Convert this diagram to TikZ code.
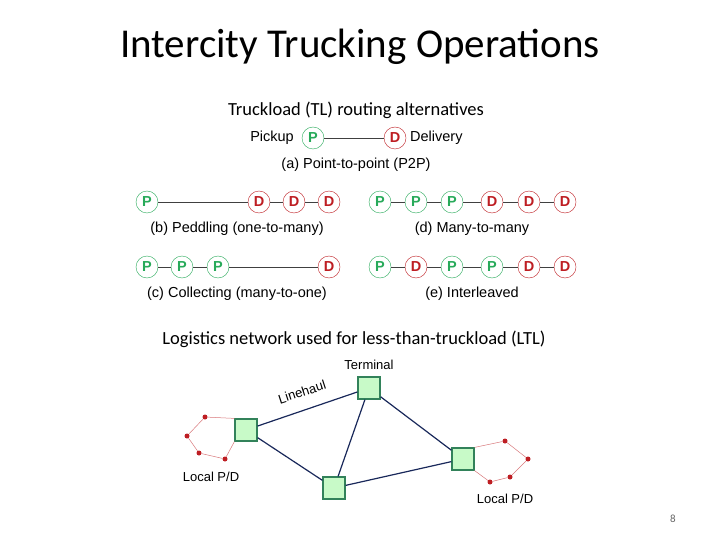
\documentclass[tikz,border=0pt]{standalone}
\usepackage{fontspec}
\setmainfont{Carlito}
\newfontfamily\arialfont{Liberation Sans}
\definecolor{pgreen}{RGB}{40,170,90}
\definecolor{dred}{RGB}{190,30,35}
\definecolor{navy}{RGB}{25,40,90}
\definecolor{tgreen}{RGB}{200,250,200}
\definecolor{tedge}{RGB}{50,130,90}
\begin{document}
\begin{tikzpicture}[x=1pt, y=-1pt]
	\tikzset{
		every node/.style={
			font=\arialfont\fontsize{14.5}{17}\selectfont,
			inner sep=0pt
		},
		pick/.style={
			circle,
			draw=pgreen,
			fill=white,
			text=pgreen,
			minimum size=22pt,
			font=\arialfont\bfseries\fontsize{14.5}{17}\selectfont
		},
		deliv/.style={
			circle,
			draw=dred,
			fill=white,
			text=dred,
			minimum size=22pt,
			font=\arialfont\bfseries\fontsize{14.5}{17}\selectfont
		},
		term/.style={
			rectangle,
			draw=tedge,
			line width=1.2pt,
			fill=tgreen,
			minimum size=22pt
		},
		stop/.style={
			circle,
			fill=dred,
			minimum size=5pt
		},
		route/.style={
			black!75,
			line width=0.7pt
		},
		haul/.style={
			navy,
			line width=1.2pt
		},
		local/.style={
			dred!60,
			line width=0.5pt
		},
		head/.style={
			font=\fontsize{18.5}{22}\selectfont
		}
	}
	\useasboundingbox (0,0) rectangle (720,540);

	\node[font=\fontsize{41}{46}\selectfont] (title) at (360,47) {Intercity Trucking Operations};
	\node[head] (tl) at (356,110) {Truckload (TL) routing alternatives};
	\node[head] (ltl) at (354,339) {Logistics network used for less-than-truckload (LTL)};
	\node[font=\fontsize{11}{13}\selectfont, text=black!60] (page) at (673,519) {8};

	% (a)
	\node[pick] (a1) at (313,138) {P};
	\node[deliv] (a2) at (395,138) {D};
	\node[anchor=east] (pk) at (294,138) {Pickup};
	\node[anchor=west] (dl) at (410,138) {Delivery};
	\node (la) at (356,165) {(a) Point-to-point (P2P)};
	\draw[route] (a1) -- (a2);

	% (b)
	\node[pick] (b1) at (147,202) {P};
	\node[deliv] (b2) at (259,202) {D};
	\node[deliv] (b3) at (294,202) {D};
	\node[deliv] (b4) at (329,202) {D};
	\node (lb) at (237,229) {(b) Peddling (one-to-many)};
	\draw[route] (b1) -- (b2) -- (b3) -- (b4);

	% (c)
	\node[pick] (c1) at (147,267) {P};
	\node[pick] (c2) at (182,267) {P};
	\node[pick] (c3) at (218,267) {P};
	\node[deliv] (c4) at (329,267) {D};
	\node (lc) at (237,294) {(c) Collecting (many-to-one)};
	\draw[route] (c1) -- (c2) -- (c3) -- (c4);

	% (d)
	\node[pick] (d1) at (380,202) {P};
	\node[pick] (d2) at (416,202) {P};
	\node[pick] (d3) at (452,202) {P};
	\node[deliv] (d4) at (492,202) {D};
	\node[deliv] (d5) at (529,202) {D};
	\node[deliv] (d6) at (565,202) {D};
	\node (ld) at (472,229) {(d) Many-to-many};
	\draw[route] (d1) -- (d2) -- (d3) -- (d4) -- (d5) -- (d6);

	% (e)
	\node[pick] (e1) at (380,267) {P};
	\node[deliv] (e2) at (416,267) {D};
	\node[pick] (e3) at (452,267) {P};
	\node[pick] (e4) at (492,267) {P};
	\node[deliv] (e5) at (529,267) {D};
	\node[deliv] (e6) at (565,267) {D};
	\node (le) at (472,294) {(e) Interleaved};
	\draw[route] (e1) -- (e2) -- (e3) -- (e4) -- (e5) -- (e6);

	% LTL network
	\node[term] (tn) at (369,388) {};
	\node[term] (tw) at (246,430) {};
	\node[term] (ts) at (334,488) {};
	\node[term] (te) at (463,459) {};
	\node[font=\arialfont\fontsize{13}{15}\selectfont] (lterm) at (369,365) {Terminal};
	\node[rotate=18, font=\arialfont\fontsize{13}{15}\selectfont] (lhaul) at (302,392) {Linehaul};
	\node[font=\arialfont\fontsize{13}{15}\selectfont] (lpd1) at (211,477) {Local P/D};
	\node[font=\arialfont\fontsize{13}{15}\selectfont] (lpd2) at (505,499) {Local P/D};

	\node[stop] (w1) at (205,417) {};
	\node[stop] (w2) at (187,436) {};
	\node[stop] (w3) at (199,453) {};
	\node[stop] (w4) at (225,459) {};
	\node[stop] (r1) at (505,441) {};
	\node[stop] (r2) at (528,459) {};
	\node[stop] (r3) at (510,477) {};
	\node[stop] (r4) at (490,482) {};

	\draw[local] (tw.north west) -- (w1) -- (w2) -- (w3) -- (w4) -- (tw.south west);
	\draw[local] (te.north east) -- (r1) -- (r2) -- (r3) -- (r4) -- (te.south east);

	\draw[haul] (tw) -- (tn);
	\draw[haul] (tw) -- (ts);
	\draw[haul] (ts) -- (tn);
	\draw[haul] (tn) -- (te);
	\draw[haul] (ts) -- (te);
\end{tikzpicture}
\end{document}
